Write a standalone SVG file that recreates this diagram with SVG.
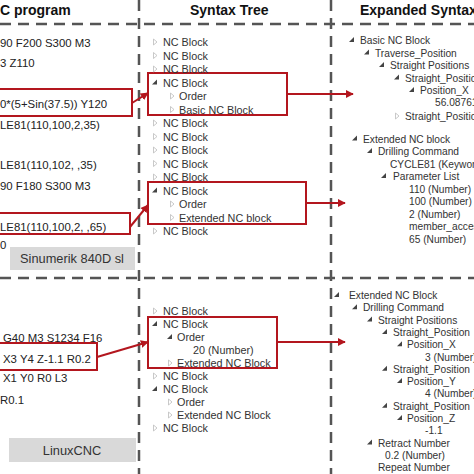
<svg xmlns="http://www.w3.org/2000/svg" width="474" height="474" viewBox="0 0 474 474">
<style>
.hd{font-family:"Liberation Sans",Arial,sans-serif;font-weight:bold;font-size:14px;fill:#111}
.code{font-family:"Liberation Sans",Arial,sans-serif;font-size:11.4px;fill:#222}
.tr{font-family:"Liberation Sans",Arial,sans-serif;font-size:10.8px;fill:#333}
.ex{font-family:"Liberation Sans",Arial,sans-serif;font-size:10.2px;fill:#333}
.lbl{font-family:"Liberation Sans",Arial,sans-serif;font-size:12.8px;fill:#333;text-anchor:middle}
.dash{stroke:#555;stroke-width:2.5;stroke-dasharray:11 7;fill:none}
.rbox{fill:none;stroke:#b3161e;stroke-width:2}
.arr{stroke:#b3161e;stroke-width:2;fill:none;marker-end:url(#ah)}
.gbox{fill:#d9d9d9}
</style>
<defs>
<marker id="ah" viewBox="0 0 10 10" refX="9" refY="5" markerWidth="4" markerHeight="4" orient="auto" markerUnits="strokeWidth">
<path d="M0,0 L10,5 L0,10 Z" fill="#b3161e"/>
</marker>
<path id="tc" d="M-1.5,-3 L2,0 L-1.5,3 Z" fill="none" stroke="#bbb" stroke-width="0.8"/>
<path id="te" d="M2,-3 L2,2 L-3,2 Z" fill="#444"/>
</defs>

<g id="grid">
<line class="dash" x1="0" y1="24" x2="474" y2="24"/>
<line class="dash" x1="0" y1="278" x2="474" y2="278"/>
<line class="dash" x1="139" y1="0" x2="139" y2="474"/>
<line class="dash" x1="331" y1="0" x2="331" y2="474"/>
</g>

<g id="headers">
<text class="hd" x="0" y="15">C program</text>
<text class="hd" x="190" y="15">Syntax Tree</text>
<text class="hd" x="360" y="15">Expanded Syntax</text>
</g>

<g id="nc-program-top">
<text class="code" x="0" y="47">90 F200 S300 M3</text>
<text class="code" x="0" y="67">3 Z110</text>
<text class="code" x="0" y="108">0*(5+Sin(37.5)) Y120</text>
<text class="code" x="0" y="129">LE81(110,100,2,35)</text>
<text class="code" x="0" y="169">LE81(110,102, ,35)</text>
<text class="code" x="0" y="190">90 F180 S300 M3</text>
<text class="code" x="0" y="231">LE81(110,100,2, ,65)</text>
<text class="code" x="0" y="249">0</text>
</g>
<g id="sinumerik">
<rect class="gbox" x="10" y="247" width="125" height="23"/>
<text class="lbl" x="72" y="263">Sinumerik 840D sl</text>
</g>

<g id="nc-program-bottom">
<text class="code" x="3" y="342">G40 M3 S1234 F16</text>
<text class="code" x="3" y="363">X3 Y4 Z-1.1 R0.2</text>
<text class="code" x="3" y="382">X1 Y0 R0 L3</text>
<text class="code" x="0" y="404">R0.1</text>
</g>
<g id="linuxcnc">
<rect class="gbox" x="9" y="438" width="127" height="24"/>
<text class="lbl" x="72" y="454.5">LinuxCNC</text>
</g>

<g id="highlight-boxes">
<rect class="rbox" x="-2" y="89" width="134" height="27"/>
<rect class="rbox" x="-2" y="213" width="132" height="21"/>
<rect class="rbox" x="-2" y="343" width="99" height="27"/>
<rect class="rbox" x="148" y="73" width="139" height="42"/>
<rect class="rbox" x="148" y="182" width="158" height="42"/>
<rect class="rbox" x="148" y="317" width="129" height="51"/>
</g>

<g id="syntax-tree-top">
<use href="#tc" x="155" y="42"/><text class="tr" x="163" y="46">NC Block</text>
<use href="#tc" x="155" y="55.5"/><text class="tr" x="163" y="59.5">NC Block</text>
<use href="#tc" x="155" y="69"/><text class="tr" x="163" y="73">NC Block</text>
<use href="#te" x="155" y="82.5"/><text class="tr" x="163" y="86.5">NC Block</text>
<use href="#tc" x="172" y="96"/><text class="tr" x="179" y="100">Order</text>
<use href="#tc" x="172" y="109.5"/><text class="tr" x="179" y="113.5">Basic NC Block</text>
<use href="#tc" x="155" y="123"/><text class="tr" x="163" y="127">NC Block</text>
<use href="#tc" x="155" y="136.5"/><text class="tr" x="163" y="140.5">NC Block</text>
<use href="#tc" x="155" y="150"/><text class="tr" x="163" y="154">NC Block</text>
<use href="#tc" x="155" y="163.5"/><text class="tr" x="163" y="167.5">NC Block</text>
<use href="#tc" x="155" y="177"/><text class="tr" x="163" y="181">NC Block</text>
<use href="#te" x="155" y="190.5"/><text class="tr" x="163" y="194.5">NC Block</text>
<use href="#tc" x="172" y="204"/><text class="tr" x="179" y="208">Order</text>
<use href="#tc" x="172" y="217.5"/><text class="tr" x="179" y="221.5">Extended NC block</text>
<use href="#tc" x="155" y="231"/><text class="tr" x="163" y="235">NC Block</text>
</g>

<g id="syntax-tree-bottom">
<use href="#tc" x="155" y="311"/><text class="tr" x="163" y="315">NC Block</text>
<use href="#te" x="155" y="324"/><text class="tr" x="163" y="328">NC Block</text>
<use href="#te" x="170" y="337"/><text class="tr" x="177" y="341">Order</text>
<text class="tr" x="193" y="354">20 (Number)</text>
<use href="#tc" x="170" y="363"/><text class="tr" x="177" y="367">Extended NC Block</text>
<use href="#tc" x="155" y="376"/><text class="tr" x="163" y="380">NC Block</text>
<use href="#te" x="155" y="389"/><text class="tr" x="163" y="393">NC Block</text>
<use href="#tc" x="170" y="402"/><text class="tr" x="177" y="406">Order</text>
<use href="#tc" x="170" y="415"/><text class="tr" x="177" y="419">Extended NC Block</text>
<use href="#tc" x="155" y="428"/><text class="tr" x="163" y="432">NC Block</text>
</g>

<g id="expanded-top">
<use href="#te" x="352" y="40"/><text class="ex" x="360" y="44">Basic NC Block</text>
<use href="#te" x="367" y="52.5"/><text class="ex" x="375" y="56.5">Traverse_Position</text>
<use href="#te" x="382" y="65"/><text class="ex" x="390" y="69">Straight Positions</text>
<use href="#te" x="397" y="77.5"/><text class="ex" x="405" y="81.5">Straight_Positio</text>
<use href="#te" x="412" y="90"/><text class="ex" x="420" y="94">Position_X</text>
<text class="ex" x="435" y="106">56.08761</text>
<use href="#tc" x="397" y="116"/><text class="ex" x="405" y="120">Straight_Positio</text>
<use href="#te" x="355" y="138.5"/><text class="ex" x="363" y="142.5">Extended NC block</text>
<use href="#te" x="370" y="151"/><text class="ex" x="378" y="155">Drilling Command</text>
<text class="ex" x="390" y="167.5">CYCLE81 (Keywor</text>
<use href="#te" x="384" y="176"/><text class="ex" x="393" y="180">Parameter List</text>
<text class="ex" x="409" y="192.5">110 (Number)</text>
<text class="ex" x="409" y="205">100 (Number)</text>
<text class="ex" x="409" y="217.5">2 (Number)</text>
<text class="ex" x="409" y="230">member_acces</text>
<text class="ex" x="409" y="242.5">65 (Number)</text>
</g>

<g id="expanded-bottom">
<use href="#te" x="337" y="295"/><text class="ex" x="349" y="299">Extended NC Block</text>
<use href="#te" x="355" y="307.3"/><text class="ex" x="363" y="311.3">Drilling Command</text>
<use href="#te" x="370" y="319.6"/><text class="ex" x="378" y="323.6">Straight Positions</text>
<use href="#te" x="385" y="331.9"/><text class="ex" x="393" y="335.9">Straight_Position</text>
<use href="#te" x="400" y="344.2"/><text class="ex" x="407" y="348.2">Position_X</text>
<text class="ex" x="425" y="360.5">3 (Number)</text>
<use href="#te" x="385" y="368.8"/><text class="ex" x="393" y="372.8">Straight_Position</text>
<use href="#te" x="400" y="381.1"/><text class="ex" x="407" y="385.1">Position_Y</text>
<text class="ex" x="425" y="397.4">4 (Number)</text>
<use href="#te" x="385" y="405.7"/><text class="ex" x="393" y="409.7">Straight_Position</text>
<use href="#te" x="400" y="418"/><text class="ex" x="407" y="422">Position_Z</text>
<text class="ex" x="425" y="434.3">-1.1</text>
<use href="#te" x="370" y="442.6"/><text class="ex" x="378" y="446.6">Retract Number</text>
<text class="ex" x="385" y="458.9">0.2 (Number)</text>
<text class="ex" x="378" y="471.2">Repeat Number</text>
</g>

<g id="connectors">
<line class="arr" x1="132" y1="103" x2="148" y2="93"/>
<line class="arr" x1="287" y1="94" x2="353" y2="94"/>
<line class="arr" x1="130" y1="227" x2="148" y2="205"/>
<line class="arr" x1="306" y1="203" x2="345" y2="203"/>
<line class="arr" x1="97" y1="357" x2="148" y2="342"/>
<line class="arr" x1="277" y1="342" x2="345" y2="342"/>
</g>
</svg>
